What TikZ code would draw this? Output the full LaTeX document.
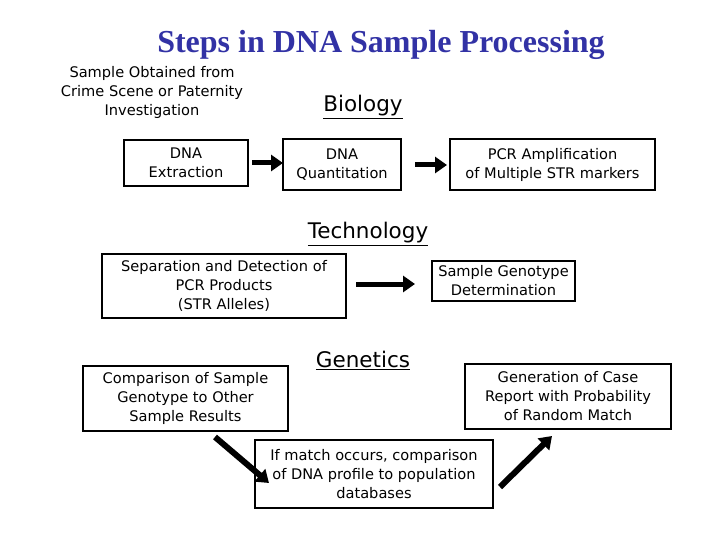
\documentclass[tikz,border=0pt]{standalone}
\usepackage{fontspec}
\setmainfont{DejaVu Sans}
\newfontfamily\titlefont{Liberation Serif}
\usetikzlibrary{arrows.meta}
\definecolor{titleblue}{RGB}{50,50,165}
\tikzset{
  txt/.style={align=center, font=\fontsize{14.6}{19}\selectfont, inner sep=0pt},
  box/.style={txt, draw, line width=1.3pt},
  heavy/.style={line width=2.4pt},
  head/.style={font=\fontsize{21.5}{25}\selectfont, inner sep=0pt},
  bigarrow/.style={line width=5pt, -{Triangle[length=12pt,width=16pt]}},
}
\begin{document}
\begin{tikzpicture}[x=1pt,y=-1pt]
\useasboundingbox (0,0) rectangle (720,540);
\node[font=\titlefont\bfseries\fontsize{32}{35}\selectfont, text=titleblue] (title) at (381,45) {Steps in DNA Sample Processing};
\node[txt] (sample) at (152,92) {Sample Obtained from\\Crime Scene or Paternity\\Investigation};
\node[head] (bio) at (363,107) {\underline{Biology}};
\node[box,heavy,minimum width=124pt,minimum height=46pt] (ext) at (186,163) {DNA\\Extraction};
\node[box,heavy,minimum width=118pt,minimum height=51pt] (quant) at (342,164.5) {DNA\\Quantitation};
\node[box,heavy,minimum width=205pt,minimum height=51pt] (pcr) at (552.5,164.5) {PCR Amplification\\of Multiple STR markers};
\node[head] (tech) at (368,234) {\underline{Technology}};
\node[box,minimum width=244pt,minimum height=64pt] (sep) at (224,286) {Separation and Detection of\\PCR Products\\(STR Alleles)};
\node[box,minimum width=143pt,minimum height=40pt] (geno) at (503.5,281) {Sample Genotype\\Determination};
\node[head] (gen) at (363,360) {\underline{Genetics}};
\node[box,heavy,minimum width=205pt,minimum height=65pt] (comp) at (185.5,398.5) {Comparison of Sample\\Genotype to Other\\Sample Results};
\node[box,minimum width=206pt,minimum height=65pt] (report) at (568,396.5) {Generation of Case\\Report with Probability\\of Random Match};
\node[box,minimum width=238pt,minimum height=68pt] (match) at (374,474) {If match occurs, comparison\\of DNA profile to population\\databases};
\coordinate (a1s) at (252,163); \coordinate (a1e) at (283,163);
\coordinate (a2s) at (415,165); \coordinate (a2e) at (447,165);
\coordinate (a3s) at (356,284); \coordinate (a3e) at (415,284);
\coordinate (a4s) at (215,437); \coordinate (a4e) at (269,483);
\coordinate (a5s) at (500,487); \coordinate (a5e) at (552,436);
\draw[bigarrow] (a1s) -- (a1e);
\draw[bigarrow] (a2s) -- (a2e);
\draw[bigarrow] (a3s) -- (a3e);
\draw[bigarrow,line width=6pt] (a4s) -- (a4e);
\draw[bigarrow,line width=6pt] (a5s) -- (a5e);
\end{tikzpicture}
\end{document}
